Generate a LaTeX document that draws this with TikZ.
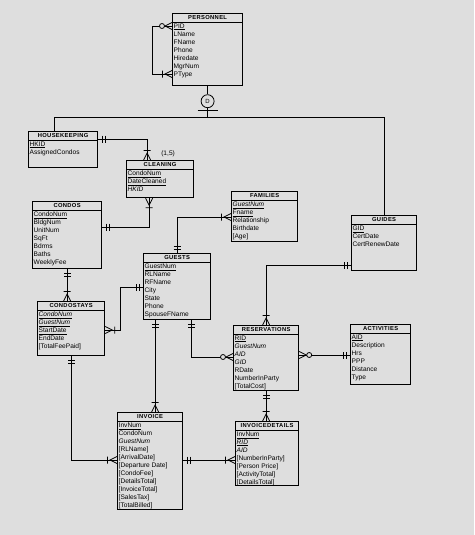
\documentclass[tikz,border=0pt]{standalone}
\usepackage{fontspec}
\setmainfont{Liberation Sans}
\definecolor{bg}{gray}{0.87}

% one entity box: name, position, width, height, title, attributes
\newcommand{\erbox}[6]{%
  \node[entity, minimum width=#3, minimum height=#4] (#1) at (#2) {};
  \draw[line width=0.9pt] ([yshift=-9pt]#1.north west) -- ([yshift=-9pt]#1.north east);
  \node[etitle] at ([yshift=-4.6pt]#1.north) {#5};
  \node[attrs] at ([shift={(1.5pt,-10.5pt)}]#1.north west) {#6};
}

\begin{document}
\begin{tikzpicture}[x=1pt, y=-1pt,
	entity/.style={draw, line width=1.2pt, anchor=north west, inner sep=0},
	etitle/.style={inner sep=0, font=\fontsize{5.8}{6}\selectfont\bfseries\addfontfeatures{LetterSpace=6}},
	attrs/.style={anchor=north west, inner sep=0, align=left, font=\fontsize{6.6}{8}\selectfont},
	conn/.style={line width=0.8pt},
	one/.pic={\draw[conn] (4,-3.5) -- (4,3.5) (7,-3.5) -- (7,3.5);},
	many/.pic={\draw[conn] (0,-3.5) -- (7,0) -- (0,3.5) (9.5,-3.5) -- (9.5,3.5);},
	zmany/.pic={\draw[conn] (0,-3.5) -- (7,0) -- (0,3.5);
		\draw[conn, fill=bg] (10,0) circle[radius=2.5pt];}]
	\path[use as bounding box, fill=bg] (0,0) rectangle (474,535);

	\erbox{personnel}{172,13}{70}{72}{PERSONNEL}
		{\underline{PID}\\LName\\FName\\Phone\\Hiredate\\MgrNum\\PType}
	\erbox{housekeeping}{28,131}{69}{36}{HOUSEKEEPING}
		{\underline{HKID}\\AssignedCondos}
	\erbox{cleaning}{126,160}{67}{37}{CLEANING}
		{\underline{CondoNum}\\\underline{DateCleaned}\\\textit{HKID}}
	\erbox{condos}{32,201}{69}{67}{CONDOS}
		{\underline{CondoNum}\\BldgNum\\UnitNum\\SqFt\\Bdrms\\Baths\\WeeklyFee}
	\erbox{families}{231,191}{66}{50}{FAMILIES}
		{\underline{\textit{GuestNum}}\\\underline{Fname}\\Relationship\\Birthdate\\{[Age]}}
	\erbox{guides}{351,215}{65}{55}{GUIDES}
		{\underline{GID}\\CertDate\\CertRenewDate}
	\erbox{guests}{143,253}{67}{66}{GUESTS}
		{\underline{GuestNum}\\RLName\\RFName\\City\\State\\Phone\\SpouseFName}
	\erbox{condostays}{37,301}{67}{54}{CONDOSTAYS}
		{\underline{\textit{CondoNum}}\\\underline{\textit{GuestNum}}\\\underline{StartDate}\\EndDate\\{[TotalFeePaid]}}
	\erbox{reservations}{233,325}{65}{65}{RESERVATIONS}
		{\underline{RID}\\\textit{GuestNum}\\\textit{AID}\\\textit{GID}\\RDate\\NumberInParty\\{[TotalCost]}}
	\erbox{activities}{350,324}{60}{60}{ACTIVITIES}
		{\underline{AID}\\Description\\Hrs\\PPP\\Distance\\Type}
	\erbox{invoice}{117,412}{65}{97}{INVOICE}
		{\underline{InvNum}\\CondoNum\\\textit{GuestNum}\\{[RLName]}\\{[ArrivalDate]}\\{[Departure Date]}\\{[CondoFee]}\\{[DetailsTotal]}\\{[InvoiceTotal]}\\{[SalesTax]}\\{[TotalBilled]}}
	\erbox{invoicedetails}{235,421}{63}{64}{INVOICEDETAILS}
		{\underline{InvNum}\\\underline{\textit{RID}}\\\textit{AID}\\{[NumberInParty]}\\{[Person Price]}\\{[ActivityTotal]}\\{[DetailsTotal]}}

	% supervisor loop
	\draw[conn] ([yshift=-13pt]personnel.north west) -- ++(-20,0) |- ([yshift=-61pt]personnel.north west);
	\pic[rotate=180] at ([yshift=-13pt]personnel.north west) {zmany};
	\pic[rotate=180] at ([yshift=-61pt]personnel.north west) {many};

	% disjoint subtypes
	\node[circle, draw, conn, fill=bg, minimum size=13, inner sep=0, font=\fontsize{6}{7}\selectfont] (disj) at ([yshift=-15pt]personnel.south) {D};
	\draw[conn] (personnel.south) -- (disj);
	\draw[conn] (disj.south) -- ++(0,9) coordinate (isa);
	\draw[conn] ([yshift=-2pt]disj.south) ++(-10,0) -- ++(20,0);
	\draw[conn] (isa) -| ([xshift=-9pt]housekeeping.north);
	\draw[conn] (isa) -| (guides.north);

	% housekeeping - cleaning
	\draw[conn] ([yshift=-8pt]housekeeping.north east) -| ([xshift=-13pt]cleaning.north);
	\pic at ([yshift=-8pt]housekeeping.north east) {one};
	\pic[rotate=90] at ([xshift=-13pt]cleaning.north) {many};
	\node[attrs, anchor=south west] (card) at ([shift={(1pt,3pt)}]cleaning.north) {(1,5)};

	% cleaning - condos
	\draw[conn] ([xshift=-11pt]cleaning.south) |- ([yshift=-26pt]condos.north east);
	\pic[rotate=-90] at ([xshift=-11pt]cleaning.south) {many};
	\pic at ([yshift=-26pt]condos.north east) {one};

	% condos - condostays
	\draw[conn] (condos.south) -- (condos.south |- condostays.north);
	\pic[rotate=-90] at (condos.south) {one};
	\pic[rotate=90] at (condos.south |- condostays.north) {many};

	% families - guests
	\draw[conn] ([yshift=-26pt]families.north west) -| (guests.north);
	\pic[rotate=180] at ([yshift=-26pt]families.north west) {many};
	\pic[rotate=90] at (guests.north) {one};

	% guides - reservations
	\draw[conn] ([yshift=-50pt]guides.north west) -| (reservations.north);
	\pic[rotate=180] at ([yshift=-50pt]guides.north west) {one};
	\pic[rotate=90] at (reservations.north) {many};

	% guests - condostays
	\draw[conn] ([yshift=-34pt]guests.north west) -- ++(-23,0) |- ([yshift=-29pt]condostays.north east);
	\pic[rotate=180] at ([yshift=-34pt]guests.north west) {one};
	\pic at ([yshift=-29pt]condostays.north east) {many};

	% guests - invoice
	\draw[conn] ([xshift=-22pt]guests.south) -- ([xshift=-22pt]guests.south |- invoice.north);
	\pic[rotate=-90] at ([xshift=-22pt]guests.south) {one};
	\pic[rotate=90] at ([xshift=-22pt]guests.south |- invoice.north) {many};

	% guests - reservations
	\draw[conn] ([xshift=14pt]guests.south) |- ([yshift=-32pt]reservations.north west);
	\pic[rotate=-90] at ([xshift=14pt]guests.south) {one};
	\pic[rotate=180] at ([yshift=-32pt]reservations.north west) {zmany};

	% reservations - activities
	\draw[conn] ([yshift=-30pt]reservations.north east) -- ([yshift=-30pt]reservations.north east -| activities.west);
	\pic at ([yshift=-30pt]reservations.north east) {zmany};
	\pic[rotate=180] at ([yshift=-30pt]reservations.north east -| activities.west) {one};

	% reservations - invoicedetails
	\draw[conn] (reservations.south) -- (reservations.south |- invoicedetails.north);
	\pic[rotate=-90] at (reservations.south) {one};
	\pic[rotate=90] at (reservations.south |- invoicedetails.north) {many};

	% condostays - invoice
	\draw[conn] (condostays.south) |- ([yshift=-48pt]invoice.north west);
	\pic[rotate=-90] at (condostays.south) {one};
	\pic[rotate=180] at ([yshift=-48pt]invoice.north west) {many};

	% invoice - invoicedetails
	\draw[conn] ([yshift=-48pt]invoice.north east) -- ([yshift=-48pt]invoice.north east -| invoicedetails.west);
	\pic at ([yshift=-48pt]invoice.north east) {one};
	\pic[rotate=180] at ([yshift=-48pt]invoice.north east -| invoicedetails.west) {many};
\end{tikzpicture}
\end{document}
